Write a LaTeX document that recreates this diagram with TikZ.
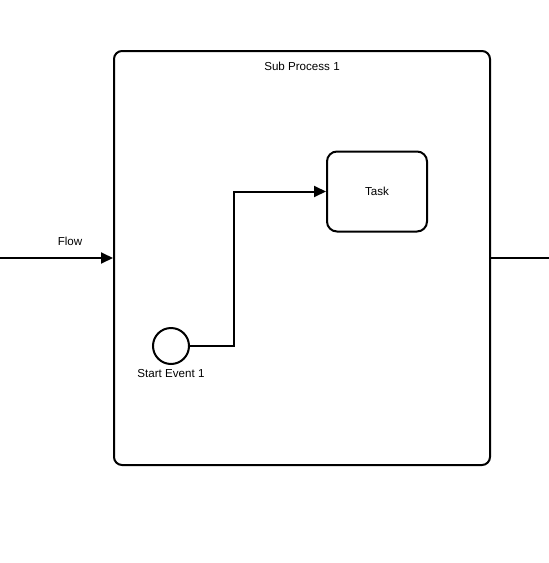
\documentclass[tikz,border=0pt]{standalone}
\usepackage{fontspec}
\setmainfont{Liberation Sans}
\usetikzlibrary{arrows.meta,positioning,shapes}
\tikzstyle{every node}=[font=\fontsize{11.6}{13}\selectfont]
\tikzstyle{flow}=[line width=2pt,-{Triangle[length=12pt,width=11pt]}]
\tikzstyle{subprocess}=[draw,line width=2pt,rounded corners=8pt,minimum width=376pt,minimum height=414pt]
\tikzstyle{task}=[draw,line width=2pt,rounded corners=10pt,minimum width=100pt,minimum height=80pt]
\tikzstyle{start event}=[draw,circle,line width=2pt,minimum size=36pt,inner sep=0pt]

\begin{document}
\begin{tikzpicture}[x=1pt,y=1pt]
  \useasboundingbox (0,0) rectangle (549,-563);
  \node[subprocess] (sub) at (302,-258) {};
  \node[below = 9pt of sub.north] (subTitle) {Sub Process 1};

  \node[task] (task) at (377,-191.5) {Task};
  \node[start event] (start) at (171,-346) {};
  \node[below = 1pt of start] (startLabel) {Start Event 1};

  \coordinate (flowIn) at (0,-258);
  \coordinate (flowOut) at (549,-258);
  \draw[flow] (flowIn) -- node[pos=0.62,above=8pt] {Flow} (sub.west);
  \draw[line width=2pt] (sub.east) -- (flowOut);

  \draw[flow] (start.east) -- ++(44,0) |- (task.west);
\end{tikzpicture}
\end{document}
